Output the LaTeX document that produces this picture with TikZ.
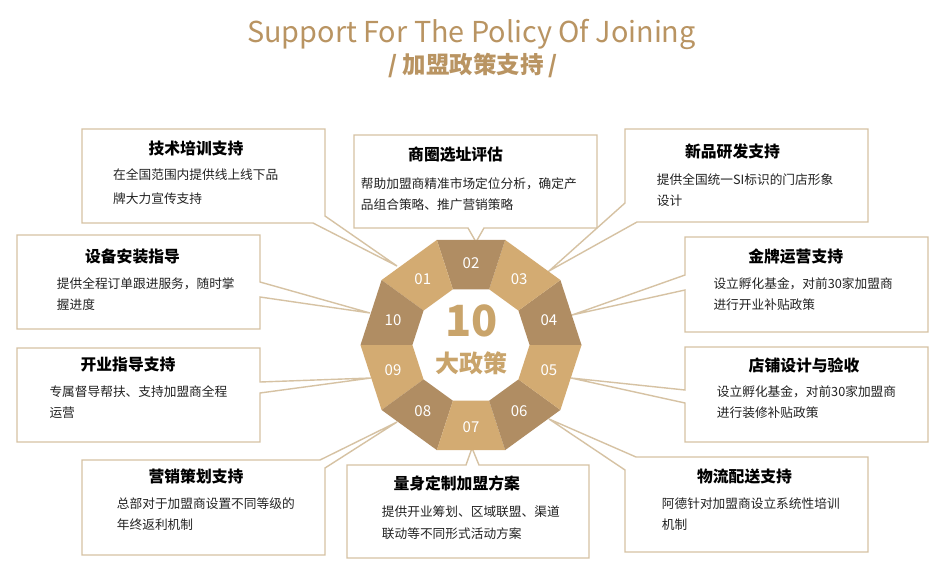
\documentclass[tikz,border=0pt]{standalone}
\usepackage{fontspec}
\setmainfont{Noto Sans CJK SC}
\usetikzlibrary{calc}
\definecolor{gold}{HTML}{B99462}
\definecolor{bordc}{HTML}{D6C2A3}
\definecolor{seglight}{HTML}{D3AB72}
\definecolor{segdark}{HTML}{B08D63}
\definecolor{centc}{HTML}{C9A46B}
\definecolor{desct}{HTML}{222222}
\begin{document}
\begin{tikzpicture}[x=1pt,y=-1pt,
  callout/.style={draw=bordc, line width=1.4pt, fill=white, line join=miter},
  boxtitle/.style={font=\fontsize{15.8}{18}\selectfont\bfseries, text=black, inner sep=0pt},
  desc/.style={font=\fontsize{12.7}{15}\selectfont, text=desct, anchor=west, inner sep=0pt},
  numlbl/.style={font=\fontsize{15}{15}\selectfont, text=white, inner sep=0pt}]
\useasboundingbox (0,0) rectangle (945,576);
\fill[white] (0,0) rectangle (945,576);

% heading
\node[anchor=base, text=gold, font=\fontsize{28.8}{30}\selectfont, inner sep=0pt] (head) at (471.5,42.7) {Support For The Policy Of Joining};
\node[anchor=base, text=gold, font=\fontsize{23.5}{25}\selectfont\bfseries, inner sep=0pt] (sub) at (473,73) {/ 加盟政策支持 /};

% tail tips
\coordinate (T1) at (397,266);
\coordinate (T2) at (370,313);
\coordinate (T3) at (371,378);
\coordinate (T4) at (397,422);
\coordinate (T5) at (472,448);
\coordinate (T6) at (476,242);
\coordinate (T7) at (549,271);
\coordinate (T8) at (572,315);
\coordinate (T9) at (571,378);
\coordinate (T10) at (549,419);

% callout boxes
\draw[callout] (82,129) -- (325,129) -- (325,216) -- (T1) -- (313,223) -- (82,223) -- cycle;
\draw[callout] (17,235) -- (260,235) -- (260,282) -- (T2) -- (260,297) -- (260,329) -- (17,329) -- cycle;
\draw[callout] (17,348) -- (260,348) -- (260,382) -- (T3) -- (260,393) -- (260,442) -- (17,442) -- cycle;
\draw[callout] (82,460) -- (320,460) -- (T4) -- (325,468) -- (325,555) -- (82,555) -- cycle;
\draw[callout] (347,465) -- (466,465) -- (T5) -- (479,465) -- (589,465) -- (589,558) -- (347,558) -- cycle;
\draw[callout] (354,135) -- (597,135) -- (597,228) -- (484,228) -- (T6) -- (468,228) -- (354,228) -- cycle;
\draw[callout] (625,129) -- (868,129) -- (868,222) -- (637,222) -- (T7) -- (625,203) -- cycle;
\draw[callout] (685,237) -- (928,237) -- (928,332) -- (685,332) -- (685,290) -- (T8) -- (685,275) -- cycle;
\draw[callout] (685,347) -- (928,347) -- (928,442) -- (685,442) -- (685,403) -- (T9) -- (685,390) -- cycle;
\draw[callout] (636,457) -- (868,457) -- (868,552) -- (625,552) -- (625,470) -- (T10) -- cycle;

% decagon
\foreach \k/\c in {0/segdark,1/seglight,2/segdark,3/seglight,4/segdark,5/seglight,6/segdark,7/seglight,8/segdark,9/seglight}{
  \fill[\c] ({471+110.5*cos(36*\k)},{345-110.5*sin(36*\k)})
    -- ({471+110.5*cos(36*\k+36)},{345-110.5*sin(36*\k+36)})
    -- ({471+58.6*cos(36*\k+36)},{345-58.6*sin(36*\k+36)})
    -- ({471+58.6*cos(36*\k)},{345-58.6*sin(36*\k)}) -- cycle;
}
\foreach \n/\ang in {02/90,03/54,04/18,05/-18,06/-54,07/-90,08/-126,09/-162,10/162,01/126}{
  \node[numlbl] (n\n) at ({471+82*cos(\ang)},{345-82*sin(\ang)}) {\n};
}
\node[anchor=base, text=centc, font=\fontsize{43}{43}\selectfont\bfseries, inner sep=0pt] (ten) at (471.5,336.7) {10};
\node[text=centc, font=\fontsize{24}{24}\selectfont\bfseries, inner sep=0pt] (dzc) at (471,363.3) {大政策};

% box texts
\node[boxtitle] (t1) at (196,148.3) {技术培训支持};
\node[desc] (d1a) at (113,175) {在全国范围内提供线上线下品};
\node[desc] (d1b) at (113,198.3) {牌大力宣传支持};

\node[boxtitle] (t2) at (132.5,256.7) {设备安装指导};
\node[desc] (d2a) at (56.7,283.3) {提供全程订单跟进服务，随时掌};
\node[desc] (d2b) at (56.7,305) {握进度};

\node[boxtitle] (t3) at (128,365) {开业指导支持};
\node[desc] (d3a) at (49.3,391.7) {专属督导帮扶、支持加盟商全程};
\node[desc] (d3b) at (49.3,412.5) {运营};

\node[boxtitle] (t4) at (196,476.7) {营销策划支持};
\node[desc] (d4a) at (116.7,503.3) {总部对于加盟商设置不同等级的};
\node[desc] (d4b) at (116.7,525) {年终返利机制};

\node[boxtitle] (t5) at (456.7,483.3) {量身定制加盟方案};
\node[desc] (d5a) at (381.7,511.7) {提供开业筹划、区域联盟、渠道};
\node[desc] (d5b) at (381.7,533.3) {联动等不同形式活动方案};

\node[boxtitle] (t6) at (455.6,155) {商圈选址评估};
\node[desc] (d6a) at (360.7,183.3) {帮助加盟商精准市场定位分析，确定产};
\node[desc] (d6b) at (360.7,205) {品组合策略、推广营销策略};

\node[boxtitle] (t7) at (732.5,151.7) {新品研发支持};
\node[desc] (d7a) at (656.7,180) {提供全国统一SI标识的门店形象};
\node[desc] (d7b) at (656.7,200.5) {设计};

\node[boxtitle] (t8) at (795.7,256.7) {金牌运营支持};
\node[desc] (d8a) at (713.3,283.3) {设立孵化基金，对前30家加盟商};
\node[desc] (d8b) at (713.3,305) {进行开业补贴政策};

\node[boxtitle] (t9) at (804,365) {店铺设计与验收};
\node[desc] (d9a) at (716.7,391.7) {设立孵化基金，对前30家加盟商};
\node[desc] (d9b) at (716.7,412.5) {进行装修补贴政策};

\node[boxtitle] (t10) at (744.5,476.7) {物流配送支持};
\node[desc] (d10a) at (661.7,503.3) {阿德针对加盟商设立系统性培训};
\node[desc] (d10b) at (661.7,525) {机制};
\end{tikzpicture}
\end{document}
